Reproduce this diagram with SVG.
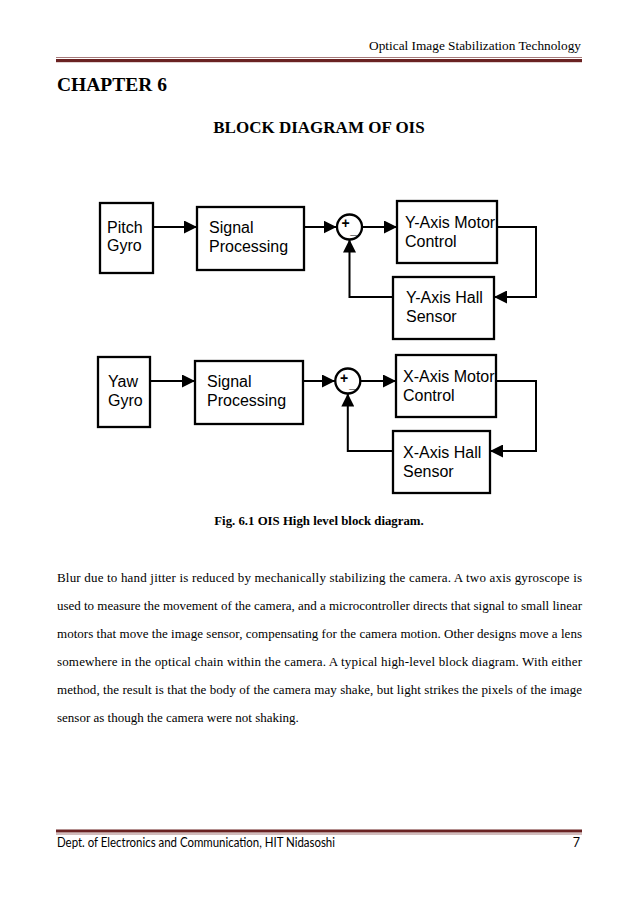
<svg xmlns="http://www.w3.org/2000/svg" width="638" height="902" viewBox="0 0 638 902">
<style>
.serif{font-family:"Liberation Serif","Times New Roman",serif;fill:#000}
.b{font-weight:bold}
.lbl{font-family:"Liberation Sans",Arial,sans-serif;font-size:16px;fill:#000}
.box{fill:#fff;stroke:#000;stroke-width:2.3}
.wire{fill:none;stroke:#000;stroke-width:2}
.sign{font-family:"Liberation Sans",Arial,sans-serif;font-weight:bold;fill:#000;text-anchor:middle}
.para{font-family:"Liberation Serif","Times New Roman",serif;font-size:13px;fill:#000}
.rule{fill:#6a2222}
</style>
<defs>
<marker id="ah" markerUnits="userSpaceOnUse" markerWidth="14" markerHeight="13" refX="13" refY="6.5" orient="auto">
<path d="M0,0 L13,6.5 L0,13 Z" fill="#000"/>
</marker>
</defs>
<rect width="638" height="902" fill="#fff"/>

<g id="page-header">
<text class="serif" x="581" y="50" font-size="13.3" text-anchor="end">Optical Image Stabilization Technology</text>
<rect class="rule" x="56" y="57" width="526" height="1" opacity="0.6"/>
<rect class="rule" x="56" y="59" width="526" height="3.2"/>
</g>

<text class="serif b" x="57" y="91" font-size="19.5">CHAPTER 6</text>
<text class="serif b" x="319" y="133" font-size="17" text-anchor="middle">BLOCK DIAGRAM OF OIS</text>

<g id="connectors">
<path class="wire" d="M153,227 H197" marker-end="url(#ah)"/>
<path class="wire" d="M304,227 H336.5" marker-end="url(#ah)"/>
<path class="wire" d="M362,227 H397" marker-end="url(#ah)"/>
<path class="wire" d="M497,227 H536 V297 H494" marker-end="url(#ah)"/>
<path class="wire" d="M393,297 H349.5 V239.5" marker-end="url(#ah)"/>

<path class="wire" d="M150,381 H195" marker-end="url(#ah)"/>
<path class="wire" d="M303,381 H335" marker-end="url(#ah)"/>
<path class="wire" d="M360.5,381 H396" marker-end="url(#ah)"/>
<path class="wire" d="M496,381 H536 V451 H490" marker-end="url(#ah)"/>
<path class="wire" d="M393,451 H347.8 V393.5" marker-end="url(#ah)"/>
</g>

<g id="pitch-gyro">
<rect class="box" x="100" y="203" width="53" height="70"/>
<text class="lbl" x="107" y="233">Pitch</text>
<text class="lbl" x="107" y="251">Gyro</text>
</g>
<g id="signal-processing-1">
<rect class="box" x="197" y="207" width="107" height="63"/>
<text class="lbl" x="209" y="233">Signal</text>
<text class="lbl" x="209" y="252">Processing</text>
</g>
<g id="sum-1">
<circle cx="349.5" cy="227" r="12.5" fill="#fff" stroke="#000" stroke-width="2.3"/>
<text class="sign" x="345.5" y="228" font-size="14">+</text>
<text class="sign" x="353.5" y="234" font-size="12">_</text>
</g>
<g id="y-motor">
<rect class="box" x="397" y="201" width="100" height="62"/>
<text class="lbl" x="405" y="228">Y-Axis Motor</text>
<text class="lbl" x="405" y="247">Control</text>
</g>
<g id="y-hall">
<rect class="box" x="393" y="277" width="101" height="62"/>
<text class="lbl" x="406" y="303">Y-Axis Hall</text>
<text class="lbl" x="406" y="322">Sensor</text>
</g>

<g id="yaw-gyro">
<rect class="box" x="98" y="357" width="52" height="70"/>
<text class="lbl" x="108" y="387">Yaw</text>
<text class="lbl" x="108" y="406">Gyro</text>
</g>
<g id="signal-processing-2">
<rect class="box" x="195" y="361" width="108" height="63"/>
<text class="lbl" x="207" y="387">Signal</text>
<text class="lbl" x="207" y="406">Processing</text>
</g>
<g id="sum-2">
<circle cx="347.8" cy="381" r="12.5" fill="#fff" stroke="#000" stroke-width="2.3"/>
<text class="sign" x="344" y="382.5" font-size="14">+</text>
<text class="sign" x="352.5" y="388" font-size="12">_</text>
</g>
<g id="x-motor">
<rect class="box" x="396" y="355" width="100" height="62"/>
<text class="lbl" x="403" y="382">X-Axis Motor</text>
<text class="lbl" x="403" y="401">Control</text>
</g>
<g id="x-hall">
<rect class="box" x="393" y="431" width="97" height="62"/>
<text class="lbl" x="403" y="458">X-Axis Hall</text>
<text class="lbl" x="403" y="477">Sensor</text>
</g>

<text class="serif b" x="319" y="525" font-size="12.8" text-anchor="middle">Fig. 6.1 OIS High level block diagram.</text>

<g id="paragraph" class="para">
<text x="57" y="582" textLength="525" lengthAdjust="spacing">Blur due to hand jitter is reduced by mechanically stabilizing the camera. A two axis gyroscope is</text>
<text x="57" y="610" textLength="525" lengthAdjust="spacing">used to measure the movement of the camera, and a microcontroller directs that signal to small linear</text>
<text x="57" y="638" textLength="525" lengthAdjust="spacing">motors that move the image sensor, compensating for the camera motion. Other designs move a lens</text>
<text x="57" y="666" textLength="525" lengthAdjust="spacing">somewhere in the optical chain within the camera. A typical high-level block diagram. With either</text>
<text x="57" y="694" textLength="525" lengthAdjust="spacing">method, the result is that the body of the camera may shake, but light strikes the pixels of the image</text>
<text x="57" y="722">sensor as though the camera were not shaking.</text>
</g>

<g id="page-footer">
<rect class="rule" x="56" y="829.5" width="526" height="3"/>
<rect class="rule" x="56" y="833.5" width="526" height="1" opacity="0.6"/>
<text x="57" y="847" font-family="Lato,'Open Sans',sans-serif" font-size="12.5" textLength="278" lengthAdjust="spacingAndGlyphs" fill="#000">Dept. of Electronics and Communication, HIT Nidasoshi</text>
<text x="580" y="847" font-family="Lato,'Open Sans',sans-serif" font-size="12.5" text-anchor="end" fill="#000">7</text>
</g>
</svg>
